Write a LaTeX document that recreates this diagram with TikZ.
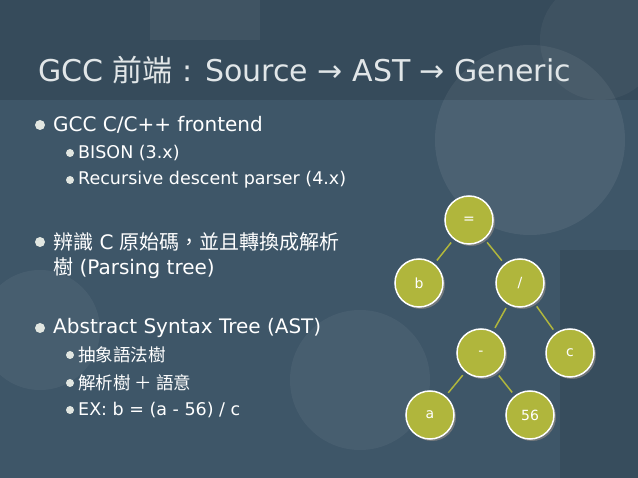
\documentclass[tikz,border=0pt]{standalone}
\usepackage{fontspec}
\usetikzlibrary{shadows}
\setmainfont{DejaVu Sans}
\newfontfamily\cjk{Noto Sans CJK TC}
\definecolor{olive}{RGB}{176,182,60}
\definecolor{bg}{RGB}{62,86,104}
\definecolor{dotc}{RGB}{225,230,225}
\definecolor{ttl}{RGB}{225,230,232}
\begin{document}
\begin{tikzpicture}[x=1pt,y=-1pt,
  tn/.style={circle,draw=white,line width=1.5pt,fill=olive,minimum size=48pt,text=white,font=\fontsize{14}{16}\selectfont,
    drop shadow={shadow xshift=2pt,shadow yshift=-2pt,opacity=0.8}},
  ed/.style={draw=olive,line width=1.5pt,shorten <=4pt,shorten >=4pt},
  bl/.style={anchor=west,inner sep=0pt,text=white,font=\fontsize{20}{24}\selectfont},
  sb/.style={anchor=west,inner sep=0pt,text=white,font=\fontsize{17.5}{21}\selectfont},
  dot/.style={circle,fill=dotc,inner sep=0pt,minimum size=#1}]
\useasboundingbox (0,0) rectangle (638,478);
\fill[bg] (0,0) rectangle (638,478);
\begin{scope}
\clip (0,0) rectangle (638,478);
\fill[white,opacity=0.07] (530,140) circle (95);
\fill[white,opacity=0.05] (360,380) circle (70);
\fill[white,opacity=0.05] (40,330) circle (60);
\fill[white,opacity=0.05] (600,40) circle (60);
\fill[black,opacity=0.12] (0,0) rectangle (638,100);
\fill[white,opacity=0.05] (150,0) rectangle (260,40);
\fill[black,opacity=0.1] (560,250) rectangle (638,478);
\end{scope}
\node[anchor=west,inner sep=0pt,text=ttl,font=\fontsize{30}{34}\selectfont] (title) at (38,70) {GCC {\cjk 前端} : Source → AST → Generic};
\node[dot=10pt] (d1) at (40,125) {};
\node[bl] (t1) at (53,125) {GCC C/C++ frontend};
\node[dot=8pt] (d2) at (70,153) {};
\node[sb] (t2) at (78,153) {BISON (3.x)};
\node[dot=8pt] (d3) at (70,180) {};
\node[sb] (t3) at (78,180) {Recursive descent parser (4.x)};
\node[dot=10pt] (d4) at (40,242) {};
\node[bl] (t4) at (53,242) {{\cjk 辨識} C {\cjk 原始碼，並且轉換成解析}};
\node[bl] (t5) at (53,268) {{\cjk 樹} (Parsing tree)};
\node[dot=10pt] (d5) at (40,328) {};
\node[bl] (t6) at (53,328) {Abstract Syntax Tree (AST)};
\node[dot=8pt] (d6) at (70,355) {};
\node[sb] (t7) at (78,355) {\cjk 抽象語法樹};
\node[dot=8pt] (d7) at (70,383) {};
\node[sb] (t8) at (78,383) {{\cjk 解析樹 ＋ 語意}};
\node[dot=8pt] (d8) at (70,410) {};
\node[sb] (t9) at (78,410) {EX: b = (a - 56) / c};
\node[tn] (eq) at (469,220) {=};
\node[tn] (b) at (419,283) {b};
\node[tn] (div) at (520,283) {/};
\node[tn] (min) at (481,353) {-};
\node[tn] (c) at (570,353) {c};
\node[tn] (a) at (430,415) {a};
\node[tn] (n56) at (530,415) {56};
\draw[ed] (eq) -- (b);
\draw[ed] (eq) -- (div);
\draw[ed] (div) -- (min);
\draw[ed] (div) -- (c);
\draw[ed] (min) -- (a);
\draw[ed] (min) -- (n56);
\end{tikzpicture}
\end{document}
